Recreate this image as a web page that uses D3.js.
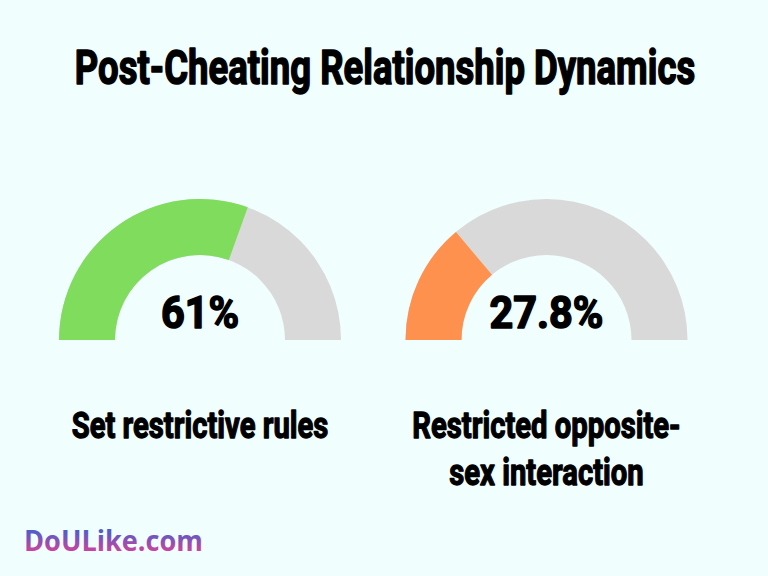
<!DOCTYPE html>
<html><head><meta charset="utf-8">
<script src="https://cdn.jsdelivr.net/npm/d3@7"></script>
<style>html,body{margin:0;padding:0;background:#f0fefe;}svg{display:block;}</style>
</head><body>
<svg id="chart" width="768" height="576"></svg>
<script>
const title = "Post-Cheating Relationship Dynamics";
const categories = ["Set restrictive rules", "Restricted opposite-sex interaction"];
const labelLines = [["Set restrictive rules"], ["Restricted opposite-", "sex interaction"]];
const values = [61, 27.8];
const valueLabels = ["61%", "27.8%"];
const colors = ["#80dc5c", "#fe914d"];
const trackColor = "#d9d9d9";
const brand = "DoULike.com";

const W = 768, H = 576;
const svg = d3.select("#chart");
svg.append("rect").attr("width", W).attr("height", H).attr("fill", "#f0fefe");

const defs = svg.append("defs");
const grad = defs.append("linearGradient").attr("id","brandGrad").attr("x1",0).attr("y1",0).attr("x2",0).attr("y2",1);
grad.append("stop").attr("offset","15%").attr("stop-color","#3862d2");
grad.append("stop").attr("offset","90%").attr("stop-color","#e23f96");

const FONT = "Roboto, 'DejaVu Sans', sans-serif";

// Condense text relative to its natural width
function squeeze(sel, ratio, strokeW) {
  sel.each(function() {
    const n = this.getComputedTextLength();
    d3.select(this).attr("textLength", n * ratio).attr("lengthAdjust", "spacingAndGlyphs")
      .attr("stroke", "#000").attr("stroke-width", strokeW).attr("stroke-linejoin", "round");
  });
}

// Title
svg.append("text").attr("x", 385).attr("y", 84).attr("text-anchor","middle")
  .attr("font-family", FONT).attr("font-weight", 700).attr("font-size", 49)
  .attr("fill","#000").text(title).call(squeeze, 0.745, 1.6);

// Gauges
const x = d3.scaleBand().domain(categories).range([24, 722]).paddingInner(0.0);
const ang = d3.scaleLinear().domain([0, 100]).range([-Math.PI/2, Math.PI/2]);
const rOuter = 141, rInner = 85, cy = 340;
const arc = d3.arc().innerRadius(rInner).outerRadius(rOuter);

categories.forEach((c, i) => {
  const cx = x(c) + x.bandwidth()/2 + (i === 0 ? 1.5 : -1);
  const g = svg.append("g").attr("transform", `translate(${cx},${cy})`);
  g.append("path").attr("d", arc({startAngle: ang(0), endAngle: ang(100)})).attr("fill", trackColor);
  g.append("path").attr("d", arc({startAngle: ang(0), endAngle: ang(values[i])})).attr("fill", colors[i]);
  g.append("text").attr("x", 0).attr("y", -12).attr("text-anchor","middle")
    .attr("font-family", FONT).attr("font-weight", 700).attr("font-size", 45)
    .attr("fill","#000").text(valueLabels[i]).call(squeeze, 0.92, 1.6);
  labelLines[i].forEach((ln, j) => {
    svg.append("text").attr("x", cx).attr("y", 438 + j*47).attr("text-anchor","middle")
      .attr("font-family", FONT).attr("font-weight", 700).attr("font-size", 37)
      .attr("fill","#000").text(ln).call(squeeze, 0.79, 1.3);
  });
});

// Brand
svg.append("text").attr("x", 24).attr("y", 551)
  .attr("font-family", "'Open Sans', sans-serif").attr("font-weight", 700).attr("font-size", 28)
  .attr("fill","url(#brandGrad)").text(brand)
  .attr("textLength", 179).attr("lengthAdjust","spacingAndGlyphs");
</script>
</body></html>
